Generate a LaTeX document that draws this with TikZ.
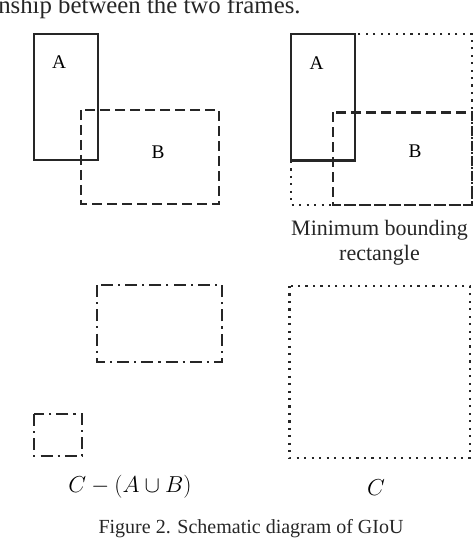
\documentclass[tikz,border=0pt]{standalone}
\usepackage{fontspec}
\setmainfont{Liberation Serif}
\begin{document}
\begin{tikzpicture}[x=0.75pt,y=-0.75pt,
  boxA/.style={draw=black!85,line width=1.9pt},
  boxB/.style={draw=black!85,line width=1.9pt,dash pattern=on 7.5pt off 3.75pt},
  boxDD/.style={draw=black!85,line width=1.9pt,dash pattern=on 9pt off 3.8pt on 1.6pt off 3.8pt},
  boxC/.style={draw=black!85,line width=1.9pt,dash pattern=on 1.6pt off 4pt},
  lab/.style={font=\fontsize{14.5}{16}\selectfont,inner sep=0pt},
  mlab/.style={font=\fontsize{18}{20}\selectfont,inner sep=0pt},
  txt/.style={inner sep=0pt,text=black!85}]
\useasboundingbox (0,0) rectangle (474,541);
\clip (0,0) rectangle (474,541);
% cut text at top
\node[txt,anchor=base west,font=\fontsize{18.6}{20}\selectfont] (top) at (-2,13.5) {nship between the two frames.};
% left top: A and B
\draw[boxA] (34,34) rectangle (98,160);
\draw[boxB] (81,110) rectangle (219,204);
\node[lab] (la) at (59,62) {A};
\node[lab] (lb) at (158,152) {B};
% right top: minimum bounding rectangle
\draw[boxC] (291,34) rectangle (472,205);
\draw[boxA] (291,34) rectangle (355,160.5);
\draw[boxB] (333,112.5) rectangle (472,205);
\node[lab] (ra) at (316.7,62.7) {A};
\node[lab] (rb) at (415,151.7) {B};
\node[txt,anchor=base,font=\fontsize{16.5}{18}\selectfont] (mbr1) at (379.5,235) {Minimum bounding};
\node[txt,anchor=base,font=\fontsize{16.5}{18}\selectfont] (mbr2) at (379.5,260) {rectangle};
% bottom left: C - (A u B)
\draw[boxDD] (97,285) rectangle (222,362);
\draw[boxDD] (34,414) rectangle (82,456);
\node[mlab] (cab) at (130,487) {$C-(A\cup B)$};
% bottom right: C
\draw[boxC] (289.5,286) rectangle (470,458);
\node[mlab] (c) at (376,488) {$C$};
% caption
\node[txt,anchor=base west,font=\fontsize{15}{17}\selectfont] (cap) at (98.3,533) {Figure 2. Schematic diagram of GIoU};
\end{tikzpicture}
\end{document}
